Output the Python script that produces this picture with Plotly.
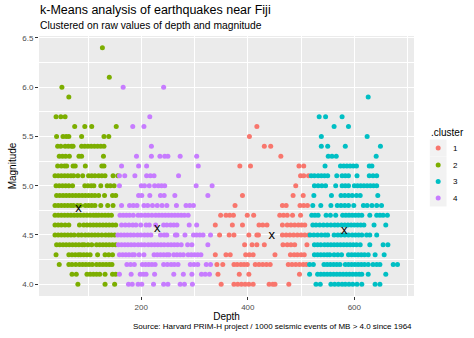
import plotly.graph_objects as go

# Depth values read per magnitude row, one dict per k-means cluster
cluster1_red = {
    5.6: [417], 5.5: [403], 5.4: [431, 443], 5.3: [462],
    5.2: [385, 405, 496, 505], 5.1: [499, 505, 514],
    5.0: [490], 4.9: [390, 485, 504],
    4.8: [376, 465, 472, 498, 505, 512],
    4.7: [349, 359, 366, 373, 399, 411, 460, 467, 474, 484, 499],
    4.6: [339, 371, 390, 421, 428, 436, 465, 474, 481, 488, 495, 501, 507],
    4.5: [347, 365, 374, 402, 417, 420, 465, 472, 479, 486, 493, 500, 507, 514],
    4.4: [394, 408, 417, 431, 466, 474, 481, 488, 511],
    4.3: [339, 359, 367, 396, 403, 410, 451, 480, 487, 493, 500, 506],
    4.2: [342, 353, 374, 380, 387, 393, 399, 414, 421, 428, 435, 442, 476, 483, 490, 497, 504, 510],
    4.1: [344, 384, 402, 497],
    4.0: [350, 374, 381, 388, 395, 402, 410, 440, 447, 451, 477],
}
cluster2_green = {
    6.4: [127], 6.1: [140], 6.0: [51], 5.9: [64], 5.7: [40, 49, 57],
    5.6: [75, 94, 107, 153], 5.5: [41, 53, 59, 64, 88, 130, 139],
    5.4: [43, 49, 57, 63, 69, 72, 88, 94, 100, 106, 112, 118, 124, 130],
    5.3: [46, 52, 58, 65, 83, 88, 129],
    5.2: [43, 50, 56, 60, 72, 76, 95, 126, 130],
    5.1: [38, 44, 50, 56, 62, 68, 73, 81, 90, 101, 107, 113, 120, 126, 132, 147, 156],
    5.0: [40, 46, 52, 58, 64, 71, 94, 100, 106, 111, 124, 136, 142, 149],
    4.9: [41, 47, 53, 59, 65, 71, 77, 83, 89, 95, 101, 107, 113, 120, 131, 146, 152],
    4.8: [38, 44, 50, 56, 62, 68, 73, 80, 86, 95, 101, 107, 113, 124, 137, 147],
    4.7: [38, 44, 50, 56, 62, 68, 74, 80, 86, 92, 98, 104, 110, 115, 120, 126, 132, 138, 144],
    4.6: [38, 44, 50, 57, 64, 84, 92, 98, 104, 110, 116, 122, 128, 134, 140, 146, 152],
    4.5: [38, 44, 50, 56, 62, 68, 74, 82, 88, 95, 101, 107, 113, 119, 126, 133, 139, 144, 150],
    4.4: [41, 47, 53, 59, 65, 71, 77, 83, 89, 93, 100, 107, 116, 122, 128, 134, 140, 146, 152],
    4.3: [40, 64, 70, 76, 82, 86, 92, 98, 104, 118, 132, 139, 146],
    4.2: [46, 64, 70, 77, 84, 90, 96, 102, 108, 116, 122, 128, 134, 140, 145],
    4.1: [70, 78, 98, 104, 110, 116, 122, 132, 146, 152],
    4.0: [81, 132, 150],
}
cluster3_teal = {
    5.9: [626], 5.7: [534, 546, 577], 5.6: [562, 589], 5.5: [538, 624],
    5.4: [538, 550, 583, 649], 5.3: [551, 558, 566, 641],
    5.2: [545, 574, 580, 586, 592, 598, 604, 628, 633],
    5.1: [519, 525, 532, 538, 544, 550, 567, 577, 583, 589, 605, 628, 635, 642],
    5.0: [525, 532, 539, 546, 565, 577, 583, 589, 600, 606, 612, 618, 624, 630, 636, 642],
    4.9: [524, 557, 575, 582, 589, 596, 604, 611, 644],
    4.8: [522, 537, 556, 568, 575, 582, 589, 599, 617, 624, 633, 642, 651],
    4.7: [520, 526, 532, 547, 555, 565, 578, 584, 590, 596, 602, 608, 614, 629, 642, 648, 654, 662],
    4.6: [522, 528, 535, 542, 549, 556, 563, 569, 576, 582, 588, 594, 600, 606, 612, 618, 637, 659],
    4.5: [517, 524, 531, 538, 545, 550, 562, 569, 575, 582, 589, 596, 602, 608, 614, 623, 629, 642],
    4.4: [525, 531, 537, 544, 550, 556, 562, 568, 574, 580, 586, 592, 598, 604, 611, 629, 654, 663],
    4.3: [525, 531, 537, 543, 549, 554, 562, 569, 576, 589, 595, 601, 607, 613, 619, 626, 639, 656],
    4.2: [516, 523, 543, 549, 555, 561, 567, 573, 583, 589, 595, 601, 607, 613, 619, 626, 635, 642, 648, 673, 681],
    4.1: [516, 531, 537, 543, 549, 555, 561, 567, 573, 579, 585, 591, 597, 603, 609, 614, 626, 659],
    4.0: [528, 536, 556, 563, 570, 577, 583, 590, 597, 605, 614, 639, 648],
}
cluster4_purple = {
    6.0: [166, 242], 5.7: [216], 5.6: [184, 205], 5.4: [219],
    5.3: [191, 219, 235, 244, 250, 273, 304],
    5.2: [163, 195, 210, 307],
    5.1: [159, 169, 188, 210, 217, 224, 270],
    5.0: [159, 200, 206, 215, 225, 232, 238, 244, 303, 333],
    4.9: [195, 201, 216, 236, 243, 263, 325],
    4.8: [163, 178, 185, 192, 205, 212, 221, 230, 239, 248, 266, 284, 291, 298],
    4.7: [160, 166, 172, 178, 185, 194, 200, 207, 213, 220, 227, 233, 239, 245, 251, 257, 263, 269, 275, 281, 288],
    4.6: [163, 170, 177, 184, 190, 199, 209, 215, 227, 242, 248, 255, 261, 267, 290, 304],
    4.5: [156, 162, 168, 174, 180, 186, 193, 199, 206, 212, 218, 236, 243, 248, 264, 267, 282, 298, 304, 310, 316, 330],
    4.4: [157, 163, 169, 175, 181, 187, 194, 200, 206, 213, 219, 225, 231, 237, 243, 250, 256, 262, 268, 275, 287, 295, 325],
    4.3: [159, 165, 171, 177, 183, 187, 196, 205, 224, 230, 236, 242, 248, 252, 261, 267, 273, 279, 288, 294, 300, 306, 312],
    4.2: [173, 180, 187, 202, 208, 214, 220, 226, 242, 249, 256, 262, 269, 292, 299, 306, 322, 330],
    4.1: [159, 181, 198, 204, 209, 225, 261, 279, 295, 313, 320, 328],
    4.0: [176, 183, 194, 201, 223, 242, 250, 273, 281, 296],
}

cluster_labels = ["1", "2", "3", "4"]
cluster_colors = ["#F8766D", "#7CAE00", "#00BFC4", "#C77CFF"]
centroid_depth = [445, 82, 581, 230]
centroid_mag = [4.49, 4.77, 4.545, 4.56]

title = "k-Means analysis of earthquakes near Fiji"
subtitle = "Clustered on raw values of depth and magnitude"
caption = "Source: Harvard PRIM-H project / 1000 seismic events of MB > 4.0 since 1964"

FONT = "Liberation Sans, Arial, sans-serif"
fig = go.Figure()

for data, lab, col in zip([cluster1_red, cluster2_green, cluster3_teal, cluster4_purple],
                          cluster_labels, cluster_colors):
    xs, ys = [], []
    for mag, depths in data.items():
        for d in depths:
            xs.append(d)
            ys.append(mag)
    fig.add_trace(go.Scatter(x=xs, y=ys, mode="markers", name=lab, showlegend=False,
                             marker=dict(color=col, size=5, line=dict(width=0))))

fig.add_trace(go.Scatter(x=centroid_depth, y=centroid_mag, mode="text", text=["x"] * 4,
                         textfont=dict(family=FONT, size=13, color="black"),
                         textposition="middle center", showlegend=False))

# axes geometry (pixels) for paper-coordinate conversion
L, R, T, B = 34, 60, 36, 42
W, H = 474 - L - R, 338 - T - B
def px(xp): return (xp - L) / W
def py(yp): return (338 - B - yp) / H

annotations = [
    dict(text=title, x=px(33), y=py(10.5), xref="paper", yref="paper", xanchor="left",
         yanchor="middle", showarrow=False, font=dict(family=FONT, size=12.5, color="black")),
    dict(text=subtitle, x=px(33), y=py(26), xref="paper", yref="paper", xanchor="left",
         yanchor="middle", showarrow=False, font=dict(family=FONT, size=10.3, color="black")),
    dict(text=caption, x=px(414), y=py(326.5), xref="paper", yref="paper", xanchor="right",
         yanchor="middle", showarrow=False, font=dict(family=FONT, size=8, color="black")),
    dict(text=".cluster", x=px(429.5), y=py(132), xref="paper", yref="paper", xanchor="left",
         yanchor="middle", showarrow=False, font=dict(family=FONT, size=10, color="black")),
]
shapes = []
key_y = [148, 165, 181.5, 198]
for lab, col, ky in zip(cluster_labels, cluster_colors, key_y):
    shapes.append(dict(type="rect", xref="paper", yref="paper", x0=px(430), x1=px(447),
                       y0=py(ky + 8.5), y1=py(ky - 8.5), fillcolor="#F2F2F2", line=dict(width=0),
                       layer="below"))
    shapes.append(dict(type="circle", xref="paper", yref="paper", xsizemode="pixel", ysizemode="pixel",
                       xanchor=px(438.5), yanchor=py(ky), x0=-2.5, x1=2.5, y0=-2.5, y1=2.5,
                       fillcolor=col, line=dict(width=0)))
    annotations.append(dict(text=lab, x=px(451.5), y=py(ky), xref="paper", yref="paper",
                            xanchor="left", yanchor="middle", showarrow=False,
                            font=dict(family=FONT, size=8, color="black")))

fig.update_layout(
    width=474, height=338,
    margin=dict(l=L, r=R, t=T, b=B, pad=0),
    paper_bgcolor="white", plot_bgcolor="#EBEBEB",
    font=dict(family=FONT, color="black"),
    annotations=annotations, shapes=shapes, showlegend=False,
    xaxis=dict(range=[8, 712], tickvals=[200, 400, 600], ticktext=["200", "400", "600"],
               showgrid=True, gridcolor="white", gridwidth=1.1, zeroline=False,
               ticks="outside", ticklen=3, tickcolor="#333333", tickwidth=1,
               tickfont=dict(family=FONT, size=8, color="#4D4D4D"),
               minor=dict(tickvals=[100, 300, 500, 700], showgrid=True, gridcolor="white",
                          gridwidth=0.5, ticks=""),
               title=dict(text="Depth", font=dict(family=FONT, size=10, color="black"), standoff=2),
               showline=False),
    yaxis=dict(range=[3.88, 6.52], tickvals=[4.0, 4.5, 5.0, 5.5, 6.0, 6.5],
               ticktext=["4.0", "4.5", "5.0", "5.5", "6.0", "6.5"],
               showgrid=True, gridcolor="white", gridwidth=1.1, zeroline=False,
               ticks="outside", ticklen=3, tickcolor="#333333", tickwidth=1,
               tickfont=dict(family=FONT, size=8, color="#4D4D4D"),
               minor=dict(tickvals=[4.25, 4.75, 5.25, 5.75, 6.25], showgrid=True,
                          gridcolor="white", gridwidth=0.5, ticks=""),
               title=dict(text="Magnitude", font=dict(family=FONT, size=10, color="black"), standoff=3),
               showline=False),
)

fig.write_html("out.html")
